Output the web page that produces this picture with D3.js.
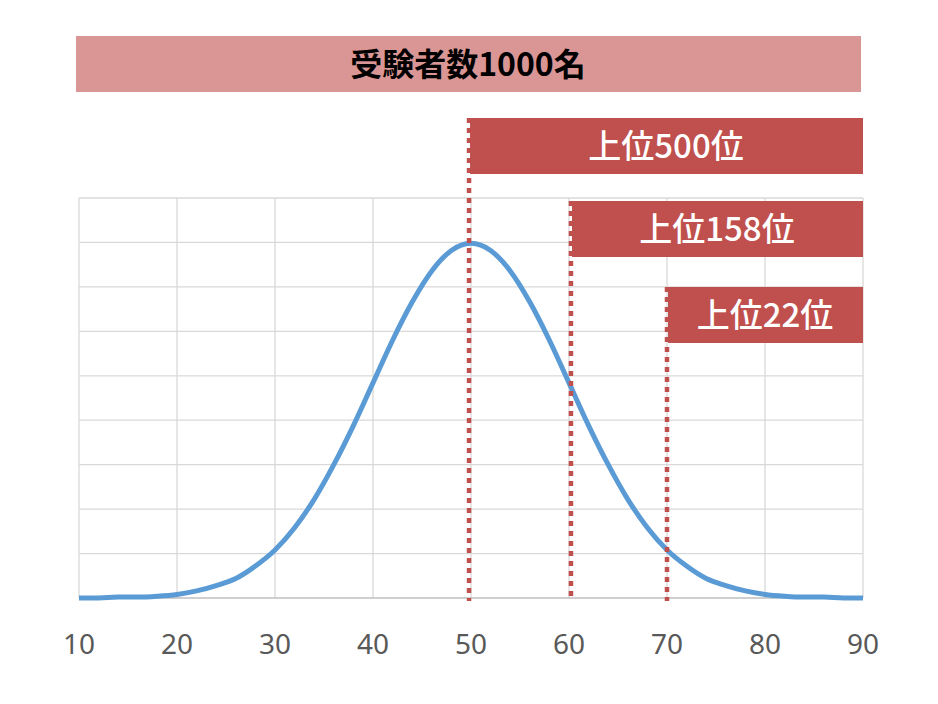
<!DOCTYPE html>
<html>
<head>
<meta charset="utf-8">
<script src="https://cdn.jsdelivr.net/npm/d3@7"></script>
<style>
  body { margin: 0; background: #fff; }
  svg { display: block; }
</style>
</head>
<body>
<svg id="chart" width="938" height="704"></svg>
<script>
"use strict";

// score axis and curve values (density, peak at 50)
const scores = [10, 12, 14, 16, 18, 20, 22, 24, 26, 28, 30, 32, 34, 36, 38, 40, 42, 44, 46, 48,
                50, 52, 54, 56, 58, 60, 62, 64, 66, 68, 70, 72, 74, 76, 78, 80, 82, 84, 86, 88, 90];
const density = [0.0000, 0.0000, 0.0001, 0.0001, 0.0002, 0.0004, 0.0008, 0.0014, 0.0022, 0.0036,
                 0.0054, 0.0079, 0.0111, 0.0150, 0.0194, 0.0242, 0.0290, 0.0333, 0.0368, 0.0391,
                 0.0399, 0.0391, 0.0368, 0.0333, 0.0290, 0.0242, 0.0194, 0.0150, 0.0111, 0.0079,
                 0.0054, 0.0036, 0.0022, 0.0014, 0.0008, 0.0004, 0.0002, 0.0001, 0.0001, 0.0000, 0.0000];
const xTicks = [10, 20, 30, 40, 50, 60, 70, 80, 90];
const yGrid = [0, 0.005, 0.01, 0.015, 0.02, 0.025, 0.03, 0.035, 0.04, 0.045];

const titleText = "受験者数1000名";
const rankLabels = ["上位500位", "上位158位", "上位22位"];
const rankScores = [49.8, 60.2, 70.0];

const plotLeft = 79, plotRight = 863, plotTop = 198, plotBottom = 598;
const boxTops = [118, 201, 287];
const boxHeight = 56;
const red = "#C0504D";

const svg = d3.select("#chart");
const xScale = d3.scaleLinear().domain([10, 90]).range([plotLeft, plotRight]);
const yScale = d3.scaleLinear().domain([0, 0.045]).range([plotBottom, plotTop]);

// grid
svg.append("g").selectAll("line")
    .data(yGrid.filter(v => v > 0))
    .join("line")
    .attr("x1", plotLeft).attr("x2", plotRight)
    .attr("y1", d => yScale(d)).attr("y2", d => yScale(d))
    .attr("stroke", "#d9d9d9").attr("stroke-width", 1.3);
svg.append("g").selectAll("line")
    .data(xTicks)
    .join("line")
    .attr("x1", d => xScale(d)).attr("x2", d => xScale(d))
    .attr("y1", plotTop).attr("y2", plotBottom)
    .attr("stroke", "#d9d9d9").attr("stroke-width", 1.3);
svg.append("line")
    .attr("x1", plotLeft).attr("x2", plotRight)
    .attr("y1", yScale(0)).attr("y2", yScale(0))
    .attr("stroke", "#bfbfbf").attr("stroke-width", 1.5);

// tick labels
svg.append("g").selectAll("text")
    .data(xTicks)
    .join("text")
    .attr("x", d => xScale(d))
    .attr("y", 654)
    .attr("text-anchor", "middle")
    .attr("font-family", "'Noto Sans', sans-serif")
    .attr("font-size", 28)
    .attr("fill", "#595959")
    .text(d => d);

// title bar
svg.append("rect")
    .attr("x", 76).attr("y", 36).attr("width", 785).attr("height", 56)
    .attr("fill", "#DA9694");
svg.append("text")
    .attr("x", 468).attr("y", 64)
    .attr("dy", "0.36em")
    .attr("text-anchor", "middle")
    .attr("font-family", "'Noto Sans CJK JP', sans-serif")
    .attr("font-weight", "bold")
    .attr("font-size", 32)
    .attr("fill", "#000")
    .text(titleText);

// curve
const line = d3.line()
    .x((d, i) => xScale(scores[i]))
    .y(d => yScale(d))
    .curve(d3.curveMonotoneX);
svg.append("path")
    .datum(density)
    .attr("d", line)
    .attr("fill", "none")
    .attr("stroke", "#5B9BD5")
    .attr("stroke-width", 5)
    .attr("stroke-linejoin", "round");

// rank markers
const marks = svg.append("g").selectAll("g")
    .data(rankScores)
    .join("g");
marks.append("line")
    .attr("x1", d => xScale(d)).attr("x2", d => xScale(d))
    .attr("y1", (d, i) => boxTops[i])
    .attr("y2", yScale(0) + 3)
    .attr("stroke", red)
    .attr("stroke-width", 4.5)
    .attr("stroke-dasharray", "5 5");
marks.append("rect")
    .attr("x", d => xScale(d) + 1)
    .attr("y", (d, i) => boxTops[i])
    .attr("width", d => plotRight - xScale(d) - 1)
    .attr("height", boxHeight)
    .attr("fill", red);
marks.append("text")
    .attr("x", d => (xScale(d) + plotRight) / 2)
    .attr("y", (d, i) => boxTops[i] + boxHeight / 2)
    .attr("dy", "0.36em")
    .attr("text-anchor", "middle")
    .attr("font-family", "'Noto Sans CJK JP', sans-serif")
    .attr("font-weight", 500)
    .attr("font-size", 33)
    .attr("fill", "#fff")
    .text((d, i) => rankLabels[i]);
</script>
</body>
</html>
